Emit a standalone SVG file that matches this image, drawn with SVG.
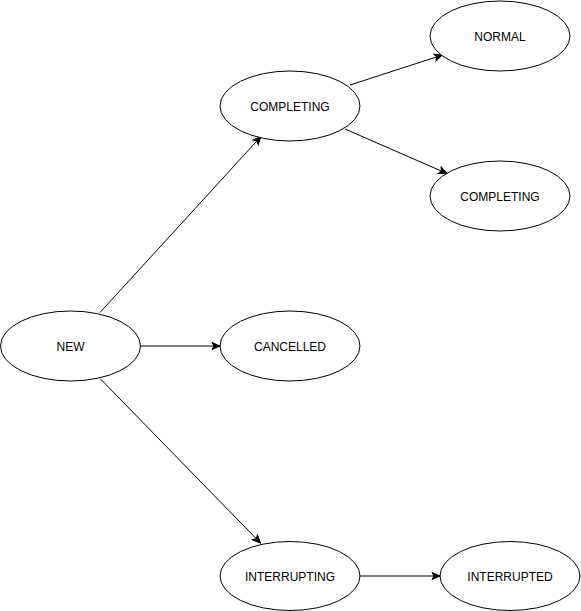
<svg xmlns="http://www.w3.org/2000/svg" width="581" height="611" viewBox="0 0 581 611">
<style>
.n ellipse{fill:#fff;stroke:#000;stroke-width:1}
.n text{font-family:"Liberation Sans",Arial,sans-serif;font-size:12px;fill:#000;text-anchor:middle;dominant-baseline:central}
.e line{stroke:#000;stroke-width:1;fill:none;marker-end:url(#arr)}
</style>
<defs>
<marker id="arr" markerUnits="userSpaceOnUse" markerWidth="10" markerHeight="10" viewBox="0 0 10 10" refX="9" refY="5" orient="auto">
<path d="M1,1.5 L9,5 L1,8.5 L3,5 Z" fill="#000" stroke="#000" stroke-width="1"/>
</marker>
</defs>
<rect width="581" height="611" fill="#fff"/>
<g id="edges" class="e">
<line x1="140" y1="346" x2="220" y2="346"/>
<line x1="100" y1="312.5" x2="261" y2="136.5"/>
<line x1="100.5" y1="379" x2="260.5" y2="543"/>
<line x1="350" y1="85" x2="442.5" y2="55"/>
<line x1="345" y1="129" x2="447" y2="173.5"/>
<line x1="360" y1="576" x2="440" y2="576"/>
</g>
<g id="NEW" class="n"><ellipse cx="70.5" cy="346" rx="70" ry="35"/><text x="70.5" y="347">NEW</text></g>
<g id="COMPLETING" class="n"><ellipse cx="290" cy="106" rx="70" ry="35"/><text x="290" y="107">COMPLETING</text></g>
<g id="NORMAL" class="n"><ellipse cx="500" cy="36" rx="70" ry="35"/><text x="500" y="37">NORMAL</text></g>
<g id="COMPLETING2" class="n"><ellipse cx="500" cy="196" rx="70" ry="35"/><text x="500" y="197">COMPLETING</text></g>
<g id="CANCELLED" class="n"><ellipse cx="290" cy="346" rx="70" ry="35"/><text x="290" y="347">CANCELLED</text></g>
<g id="INTERRUPTING" class="n"><ellipse cx="290" cy="576" rx="70" ry="34.5"/><text x="290" y="577">INTERRUPTING</text></g>
<g id="INTERRUPTED" class="n"><ellipse cx="510" cy="576" rx="70" ry="34.5"/><text x="510" y="577">INTERRUPTED</text></g>
</svg>
